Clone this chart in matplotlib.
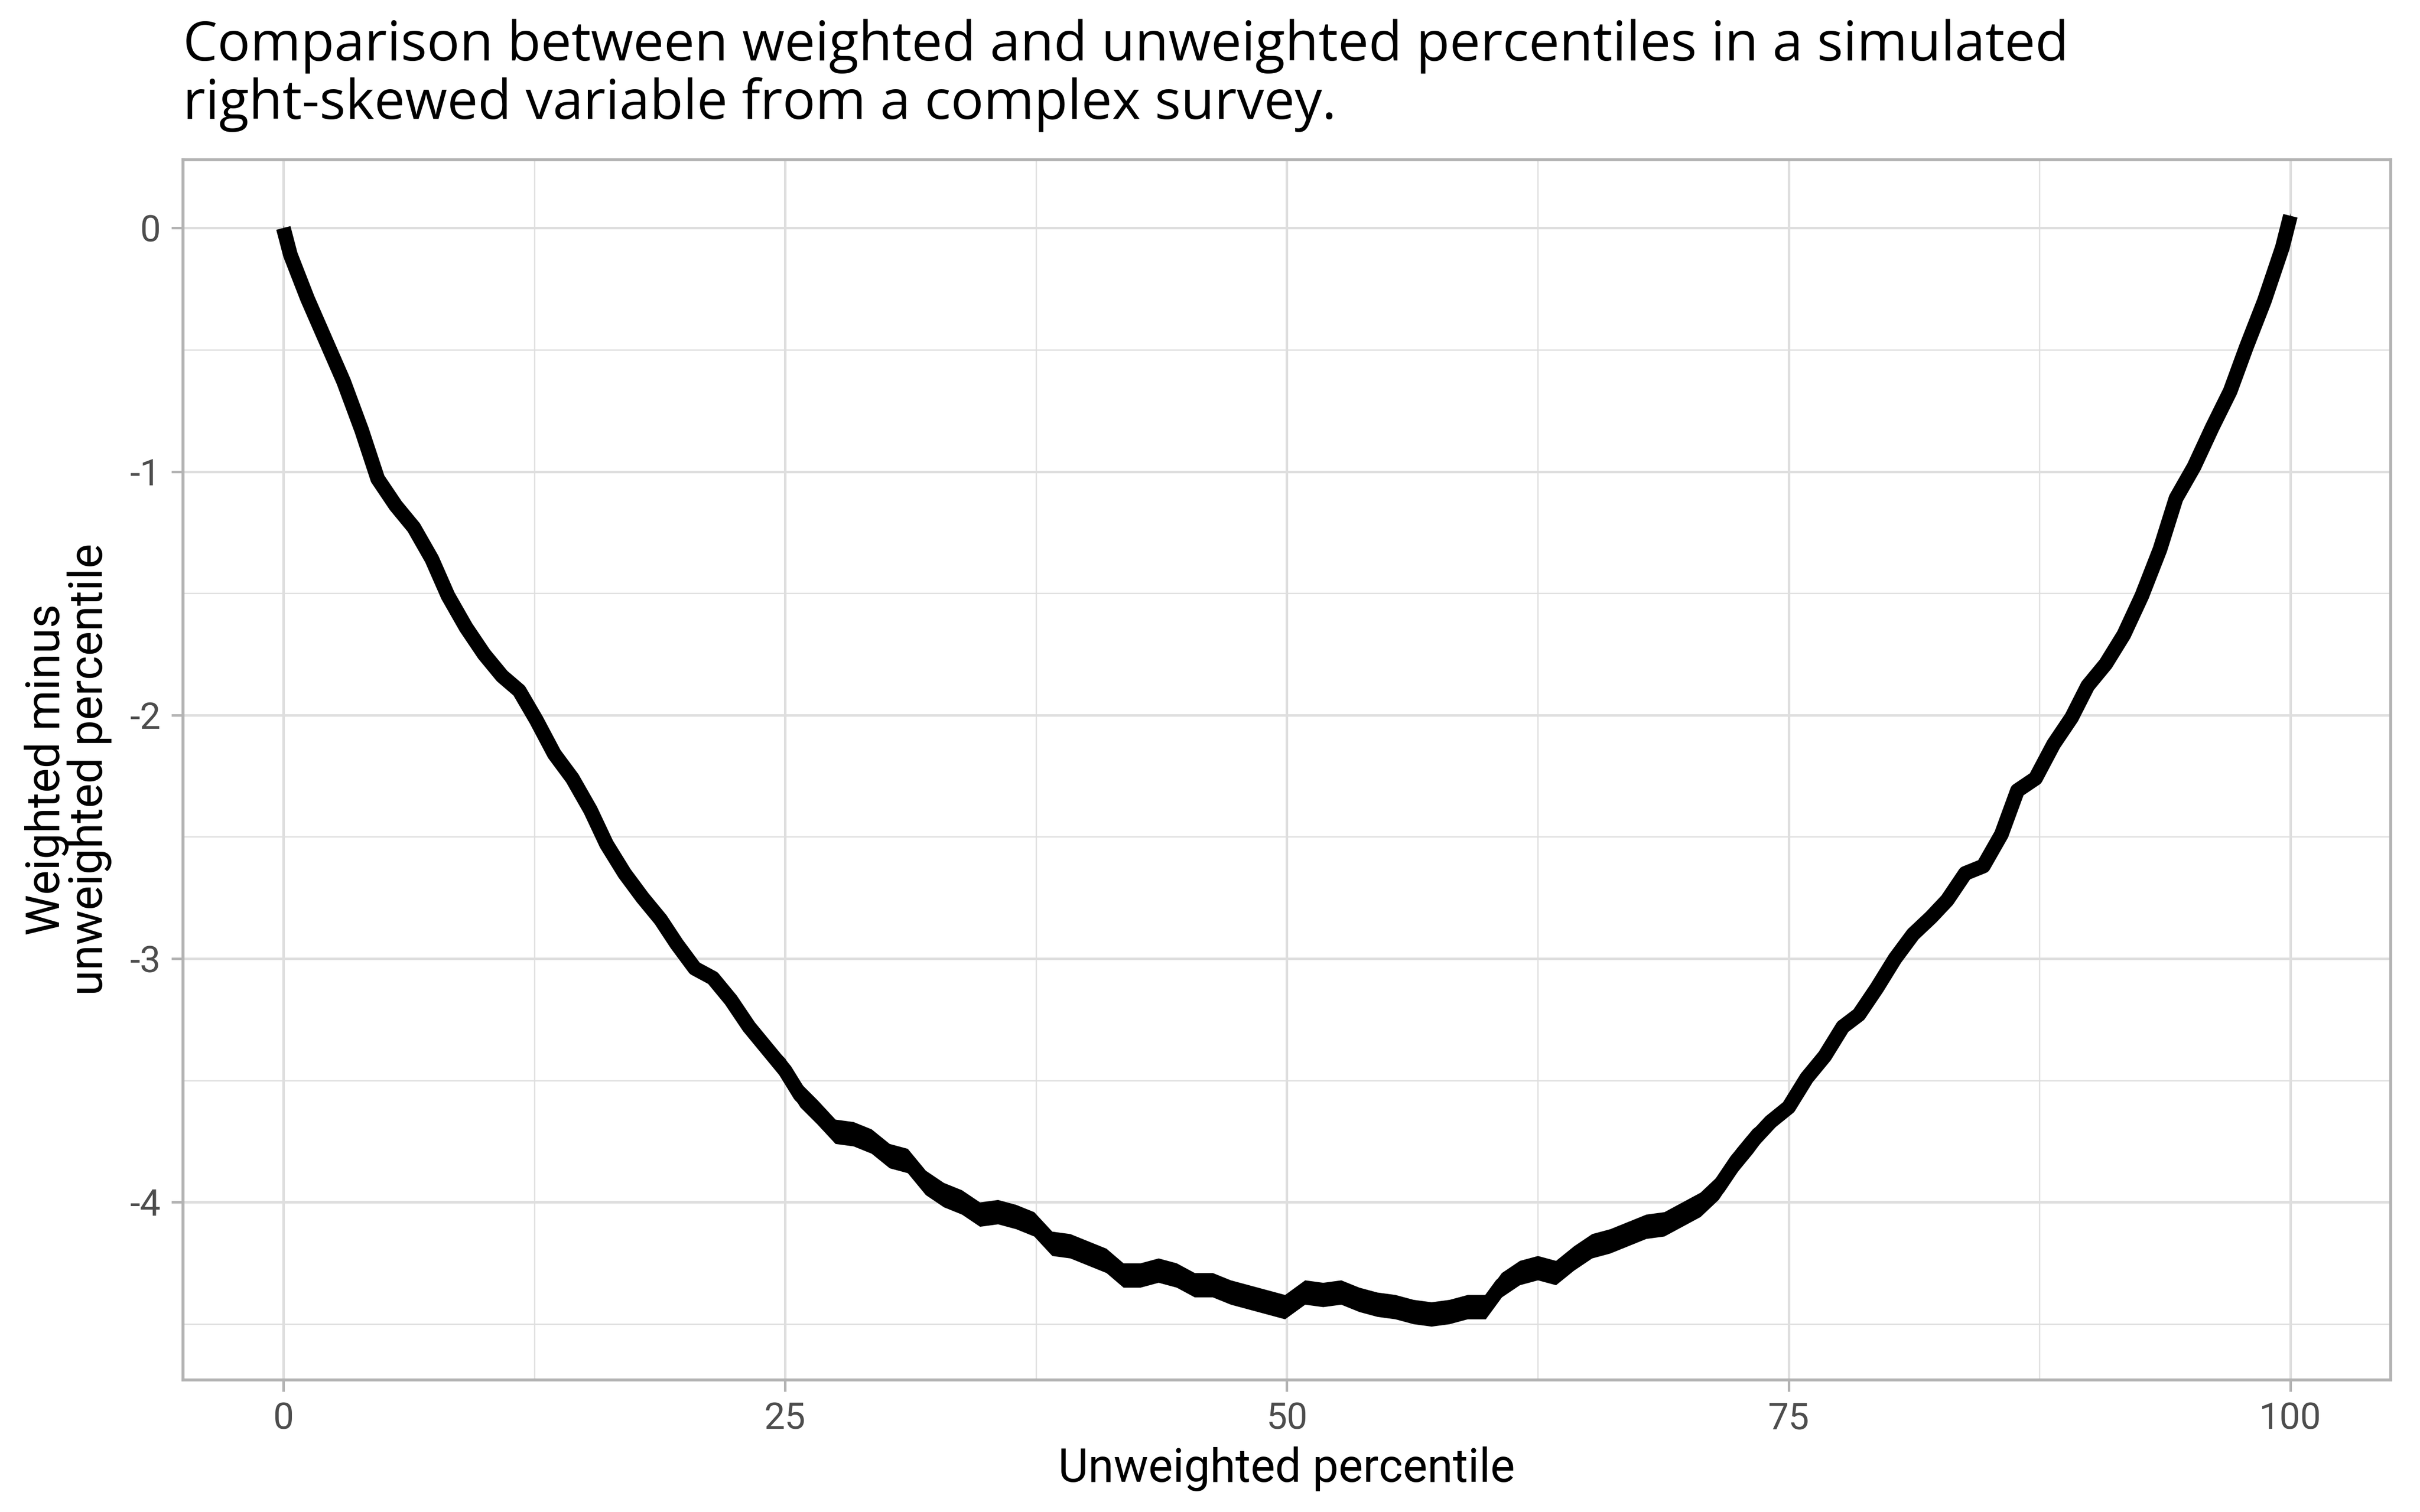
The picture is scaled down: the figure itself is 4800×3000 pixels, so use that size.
import matplotlib
matplotlib.use("Agg")
import matplotlib.pyplot as plt
import numpy as np

# values
pct = [0, 0.35, 1.2, 2.1, 3.0, 3.9, 4.7, 5.6, 6.5, 7.4, 8.2, 9.1, 10.0, 10.9,
       11.75, 12.6, 13.5, 14.4, 15.3, 16.1, 17.0, 17.9, 18.8, 19.6, 20.5,
       21.4, 22.3, 23.2, 24.0, 25.0, 25.75, 26.6, 27.5, 28.4, 29.3, 30.2,
       31.1, 32.0, 32.9, 33.8, 34.7, 35.6, 36.5, 37.4, 38.3, 39.2, 40.1,
       41.0, 41.85, 42.7, 43.6, 44.5, 45.4, 46.3, 47.2, 48.1, 49.0, 49.9,
       50.9, 51.8, 52.7, 53.6, 54.5, 55.4, 56.3, 57.2, 58.1, 59.0, 59.9,
       60.7, 61.6, 62.5, 63.4, 64.3, 65.2, 66.1, 67.0, 67.9, 68.8, 69.7,
       70.6, 71.5, 72.4, 73.2, 74.1, 75.0, 75.9, 76.8, 77.7, 78.5, 79.4,
       80.3, 81.2, 82.1, 82.9, 83.8, 84.7, 85.6, 86.4, 87.3, 88.2, 89.1,
       89.9, 90.8, 91.7, 92.6, 93.5, 94.3, 95.2, 96.1, 97.0, 97.8, 98.7,
       99.6, 100]
diff = [0, -0.11, -0.29, -0.46, -0.63, -0.83, -1.03, -1.14, -1.23, -1.36,
        -1.51, -1.64, -1.75, -1.84, -1.90, -2.02, -2.16, -2.26, -2.39, -2.53,
        -2.65, -2.75, -2.84, -2.94, -3.04, -3.08, -3.17, -3.28, -3.36, -3.46,
        -3.56, -3.63, -3.71, -3.72, -3.75, -3.81, -3.83, -3.92, -3.97, -4.00,
        -4.05, -4.04, -4.06, -4.09, -4.17, -4.18, -4.21, -4.24, -4.30, -4.30,
        -4.28, -4.30, -4.34, -4.34, -4.37, -4.39, -4.41, -4.43, -4.37, -4.38,
        -4.37, -4.40, -4.42, -4.43, -4.45, -4.46, -4.45, -4.43, -4.43, -4.34,
        -4.29, -4.27, -4.29, -4.23, -4.18, -4.16, -4.13, -4.10, -4.09, -4.05,
        -4.01, -3.94, -3.83, -3.75, -3.67, -3.61, -3.49, -3.40, -3.28, -3.23,
        -3.12, -3.00, -2.90, -2.83, -2.76, -2.65, -2.62, -2.49, -2.31, -2.26,
        -2.12, -2.01, -1.88, -1.79, -1.67, -1.51, -1.32, -1.11, -0.98, -0.82,
        -0.67, -0.49, -0.30, -0.08, 0.05]
# half-height of the jittery band around the curve, read per point
spread = [0.012] * 28 + [0.03] + [0.05] * 55 + [0.03] * 2 + [0.012] * 29

x_ticks = [0, 25, 50, 75, 100]
x_minor = [12.5, 37.5, 62.5, 87.5]
y_ticks = [0, -1, -2, -3, -4]
y_tick_labels = ["0", "-1", "-2", "-3", "-4"]
y_minor = [-0.5, -1.5, -2.5, -3.5, -4.5]

title = ("Comparison between weighted and unweighted percentiles in a simulated\n"
         "right-skewed variable from a complex survey.")

W, H = 4800, 3000
fig = plt.figure(figsize=(16, 10), dpi=300)
ax = fig.add_axes([363 / W, 1 - 2738 / H, (4742 - 363) / W, (2738 - 317) / H])

d = np.array(diff)
s = np.array(spread)
ax.fill_between(pct, d - s, d + s, color="black", lw=0, zorder=3)
ax.plot(pct, diff, color="black", lw=7, solid_joinstyle="round",
        solid_capstyle="butt", zorder=4)

ax.set_xlim(-5, 105)
ax.set_ylim(-4.73, 0.28)
ax.set_xticks(x_ticks)
ax.set_xticks(x_minor, minor=True)
ax.set_yticks(y_ticks)
ax.set_yticklabels(y_tick_labels)
ax.set_yticks(y_minor, minor=True)

ax.grid(which="major", color="#DEDEDE", lw=1.2)
ax.grid(which="minor", color="#DEDEDE", lw=0.6)
ax.set_axisbelow(True)
for sp in ax.spines.values():
    sp.set_color("#B3B3B3")
    sp.set_linewidth(1.4)

ax.tick_params(which="major", length=5.5, width=1.2, color="#B3B3B3",
               labelcolor="#4D4D4D", labelsize=17.6, pad=5)
ax.tick_params(which="minor", length=0)
for lab in ax.get_xticklabels() + ax.get_yticklabels():
    lab.set_family("Roboto")

fig.text(363 / W, 1 - 38 / H, title, ha="left", va="top", fontsize=26,
         family="Open Sans", linespacing=1.08)
fig.text(135 / W, 0.491, "Weighted minus\nunweighted percentile", rotation=90,
         ha="center", va="center", fontsize=22, family="Roboto",
         linespacing=0.95)
fig.text(2552 / W, 1 - 2940 / H, "Unweighted percentile", ha="center",
         va="baseline", fontsize=22, family="Roboto")

fig.savefig("out.png", dpi=300)
